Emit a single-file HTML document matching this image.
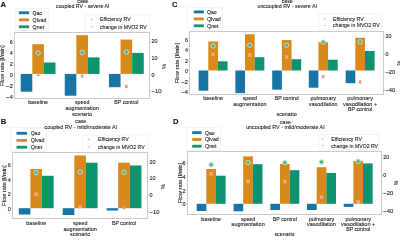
<!DOCTYPE html>
<html><head><meta charset="utf-8"><style>
html,body{margin:0;padding:0;background:#fff;overflow:hidden;}
svg{display:block;filter:blur(0.3px);}
text{font-family:"Liberation Sans", sans-serif;stroke:#222;stroke-width:0.1px;}
</style></head><body>
<svg width="400" height="236" viewBox="0 0 400 236">
<rect width="400" height="236" fill="#fff"/>
<rect x="15.50" y="8.30" width="32.80" height="22.10" fill="#fff" stroke="#ececec" stroke-width="0.6"/>
<rect x="18.90" y="11.40" width="10.20" height="2.80" fill="#1874a5"/>
<text x="32.60" y="14.70" font-size="5.8" text-anchor="start" fill="#222222" textLength="9.56" lengthAdjust="spacingAndGlyphs">Qao</text>
<rect x="18.90" y="18.40" width="10.20" height="2.80" fill="#d8891b"/>
<text x="32.60" y="21.70" font-size="5.8" text-anchor="start" fill="#222222" textLength="13.80" lengthAdjust="spacingAndGlyphs">Qlvad</text>
<rect x="18.90" y="25.40" width="10.20" height="2.80" fill="#0e9270"/>
<text x="32.60" y="28.70" font-size="5.8" text-anchor="start" fill="#222222" textLength="11.53" lengthAdjust="spacingAndGlyphs">Qnet</text>
<rect x="85.00" y="15.00" width="65.00" height="16.80" fill="#fff" stroke="#ececec" stroke-width="0.6"/>
<circle cx="91.60" cy="19.40" r="0.85" fill="#a4c8b8"/>
<circle cx="91.60" cy="26.80" r="0.85" fill="#e6bcae"/>
<text x="100.00" y="21.30" font-size="5.8" text-anchor="start" fill="#222222" textLength="30.68" lengthAdjust="spacingAndGlyphs">Efficiency RV</text>
<text x="100.00" y="28.70" font-size="5.8" text-anchor="start" fill="#222222" textLength="46.66" lengthAdjust="spacingAndGlyphs">change in MVO2 RV</text>
<rect x="20.70" y="73.90" width="11.60" height="17.80" fill="#1874a5"/>
<rect x="32.30" y="44.20" width="11.60" height="29.70" fill="#d8891b"/>
<rect x="43.90" y="62.50" width="11.60" height="11.40" fill="#0e9270"/>
<rect x="64.75" y="73.90" width="11.60" height="21.80" fill="#1874a5"/>
<rect x="76.35" y="35.20" width="11.60" height="38.70" fill="#d8891b"/>
<rect x="87.95" y="57.40" width="11.60" height="16.50" fill="#0e9270"/>
<rect x="108.95" y="73.90" width="11.60" height="13.30" fill="#1874a5"/>
<rect x="120.55" y="39.60" width="11.60" height="34.30" fill="#d8891b"/>
<rect x="132.15" y="52.90" width="11.60" height="21.00" fill="#0e9270"/>
<circle cx="38.10" cy="53.00" r="2.2" fill="#5aaea6" stroke="#bfe4b2" stroke-width="1.0"/>
<path d="M37.30 73.60L38.90 75.60M38.90 73.60L37.30 75.60" stroke="#de9a82" stroke-width="1.3" stroke-linecap="square"/>
<circle cx="82.15" cy="52.50" r="2.2" fill="#5aaea6" stroke="#bfe4b2" stroke-width="1.0"/>
<path d="M81.35 75.20L82.95 77.20M82.95 75.20L81.35 77.20" stroke="#de9a82" stroke-width="1.3" stroke-linecap="square"/>
<circle cx="126.35" cy="52.00" r="2.2" fill="#5aaea6" stroke="#bfe4b2" stroke-width="1.0"/>
<path d="M125.55 85.50L127.15 87.50M127.15 85.50L125.55 87.50" stroke="#de9a82" stroke-width="1.3" stroke-linecap="square"/>
<line x1="14.00" y1="32.50" x2="150.00" y2="32.50" stroke="#cbcbcb" stroke-width="1"/>
<line x1="14.00" y1="98.50" x2="150.00" y2="98.50" stroke="#cbcbcb" stroke-width="1"/>
<line x1="14.50" y1="32.50" x2="14.50" y2="98.50" stroke="#cbcbcb" stroke-width="1"/>
<line x1="149.50" y1="32.50" x2="149.50" y2="98.50" stroke="#cbcbcb" stroke-width="1"/>
<line x1="12.90" y1="40.78" x2="14.50" y2="40.78" stroke="#cbcbcb" stroke-width="0.8"/>
<text x="12.80" y="43.83" font-size="5.8" text-anchor="end" fill="#222222" textLength="3.02" lengthAdjust="spacingAndGlyphs">6</text>
<line x1="12.90" y1="51.82" x2="14.50" y2="51.82" stroke="#cbcbcb" stroke-width="0.8"/>
<text x="12.80" y="54.87" font-size="5.8" text-anchor="end" fill="#222222" textLength="3.02" lengthAdjust="spacingAndGlyphs">4</text>
<line x1="12.90" y1="62.86" x2="14.50" y2="62.86" stroke="#cbcbcb" stroke-width="0.8"/>
<text x="12.80" y="65.91" font-size="5.8" text-anchor="end" fill="#222222" textLength="3.02" lengthAdjust="spacingAndGlyphs">2</text>
<line x1="12.90" y1="73.90" x2="14.50" y2="73.90" stroke="#cbcbcb" stroke-width="0.8"/>
<text x="12.80" y="76.95" font-size="5.8" text-anchor="end" fill="#222222" textLength="3.02" lengthAdjust="spacingAndGlyphs">0</text>
<line x1="12.90" y1="84.94" x2="14.50" y2="84.94" stroke="#cbcbcb" stroke-width="0.8"/>
<text x="12.80" y="87.99" font-size="5.8" text-anchor="end" fill="#222222" textLength="7.00" lengthAdjust="spacingAndGlyphs">−2</text>
<line x1="12.90" y1="95.98" x2="14.50" y2="95.98" stroke="#cbcbcb" stroke-width="0.8"/>
<text x="12.80" y="99.03" font-size="5.8" text-anchor="end" fill="#222222" textLength="7.00" lengthAdjust="spacingAndGlyphs">−4</text>
<line x1="149.50" y1="41.40" x2="151.10" y2="41.40" stroke="#cbcbcb" stroke-width="0.8"/>
<text x="151.60" y="43.30" font-size="5.8" text-anchor="start" fill="#222222" textLength="6.04" lengthAdjust="spacingAndGlyphs">20</text>
<line x1="149.50" y1="58.00" x2="151.10" y2="58.00" stroke="#cbcbcb" stroke-width="0.8"/>
<text x="151.60" y="59.90" font-size="5.8" text-anchor="start" fill="#222222" textLength="6.04" lengthAdjust="spacingAndGlyphs">10</text>
<line x1="149.50" y1="74.60" x2="151.10" y2="74.60" stroke="#cbcbcb" stroke-width="0.8"/>
<text x="151.60" y="76.50" font-size="5.8" text-anchor="start" fill="#222222" textLength="3.02" lengthAdjust="spacingAndGlyphs">0</text>
<line x1="149.50" y1="91.20" x2="151.10" y2="91.20" stroke="#cbcbcb" stroke-width="0.8"/>
<text x="151.60" y="93.10" font-size="5.8" text-anchor="start" fill="#222222" textLength="10.02" lengthAdjust="spacingAndGlyphs">−10</text>
<text x="38.10" y="104.10" font-size="5.8" text-anchor="middle" fill="#222222" textLength="19.90" lengthAdjust="spacingAndGlyphs">baseline</text>
<text x="82.15" y="104.10" font-size="5.8" text-anchor="middle" fill="#222222" textLength="14.35" lengthAdjust="spacingAndGlyphs">speed</text>
<text x="82.15" y="109.80" font-size="5.8" text-anchor="middle" fill="#222222" textLength="33.37" lengthAdjust="spacingAndGlyphs">augmentation</text>
<text x="126.35" y="104.10" font-size="5.8" text-anchor="middle" fill="#222222" textLength="24.10" lengthAdjust="spacingAndGlyphs">BP control</text>
<text x="81.95" y="115.80" font-size="5.8" text-anchor="middle" fill="#222222" textLength="20.11" lengthAdjust="spacingAndGlyphs">scenario</text>
<text x="82.80" y="2.90" font-size="5.8" text-anchor="middle" fill="#222222" textLength="10.92" lengthAdjust="spacingAndGlyphs">case</text>
<text x="82.80" y="8.30" font-size="5.8" text-anchor="middle" fill="#222222" textLength="53.40" lengthAdjust="spacingAndGlyphs">coupled RV - severe AI</text>
<text x="0.60" y="7.20" font-size="7.6" text-anchor="start" fill="#111" font-weight="bold">A</text>
<text x="4.30" y="65.70" font-size="5.8" text-anchor="middle" fill="#222222" textLength="40.60" lengthAdjust="spacingAndGlyphs" transform="rotate(-90 4.30 65.70)">Flow rate [l/min]</text>
<text x="166.40" y="66.50" font-size="5.8" text-anchor="middle" fill="#222222" textLength="4.51" lengthAdjust="spacingAndGlyphs" transform="rotate(-90 166.40 66.50)">%</text>
<rect x="10.40" y="127.80" width="36.10" height="23.40" fill="#fff" stroke="#ececec" stroke-width="0.6"/>
<rect x="16.50" y="131.90" width="10.50" height="2.80" fill="#1874a5"/>
<text x="30.70" y="135.20" font-size="5.8" text-anchor="start" fill="#222222" textLength="9.56" lengthAdjust="spacingAndGlyphs">Qao</text>
<rect x="16.50" y="139.00" width="10.50" height="2.80" fill="#d8891b"/>
<text x="30.70" y="142.30" font-size="5.8" text-anchor="start" fill="#222222" textLength="13.80" lengthAdjust="spacingAndGlyphs">Qlvad</text>
<rect x="16.50" y="145.80" width="10.50" height="2.80" fill="#0e9270"/>
<text x="30.70" y="149.10" font-size="5.8" text-anchor="start" fill="#222222" textLength="11.53" lengthAdjust="spacingAndGlyphs">Qnet</text>
<rect x="82.00" y="135.00" width="66.00" height="17.80" fill="#fff" stroke="#ececec" stroke-width="0.6"/>
<circle cx="89.00" cy="139.40" r="0.85" fill="#a4c8b8"/>
<circle cx="89.00" cy="147.00" r="0.85" fill="#e6bcae"/>
<text x="98.00" y="141.30" font-size="5.8" text-anchor="start" fill="#222222" textLength="30.68" lengthAdjust="spacingAndGlyphs">Efficiency RV</text>
<text x="98.00" y="148.90" font-size="5.8" text-anchor="start" fill="#222222" textLength="46.66" lengthAdjust="spacingAndGlyphs">change in MVO2 RV</text>
<rect x="18.80" y="208.20" width="11.60" height="6.30" fill="#1874a5"/>
<rect x="30.40" y="169.00" width="11.60" height="39.20" fill="#d8891b"/>
<rect x="42.00" y="175.80" width="11.60" height="32.40" fill="#0e9270"/>
<rect x="62.75" y="208.20" width="11.60" height="6.80" fill="#1874a5"/>
<rect x="74.35" y="155.50" width="11.60" height="52.70" fill="#d8891b"/>
<rect x="85.95" y="162.70" width="11.60" height="45.50" fill="#0e9270"/>
<rect x="106.60" y="208.20" width="11.60" height="2.30" fill="#1874a5"/>
<rect x="118.20" y="162.70" width="11.60" height="45.50" fill="#d8891b"/>
<rect x="129.80" y="165.50" width="11.60" height="42.70" fill="#0e9270"/>
<circle cx="36.20" cy="172.50" r="2.2" fill="#5aaea6" stroke="#bfe4b2" stroke-width="1.0"/>
<path d="M35.05 193.05L37.35 195.35M37.35 193.05L35.05 195.35" stroke="#f0b088" stroke-width="1.45" stroke-linecap="square"/>
<circle cx="80.15" cy="171.80" r="2.2" fill="#5aaea6" stroke="#bfe4b2" stroke-width="1.0"/>
<path d="M79.00 205.55L81.30 207.85M81.30 205.55L79.00 207.85" stroke="#f0b088" stroke-width="1.45" stroke-linecap="square"/>
<circle cx="124.00" cy="172.20" r="2.2" fill="#5aaea6" stroke="#bfe4b2" stroke-width="1.0"/>
<path d="M123.20 206.50L124.80 208.50M124.80 206.50L123.20 208.50" stroke="#de9a82" stroke-width="1.3" stroke-linecap="square"/>
<line x1="12.00" y1="152.50" x2="148.00" y2="152.50" stroke="#cbcbcb" stroke-width="1"/>
<line x1="12.00" y1="218.50" x2="148.00" y2="218.50" stroke="#cbcbcb" stroke-width="1"/>
<line x1="12.50" y1="152.50" x2="12.50" y2="218.50" stroke="#cbcbcb" stroke-width="1"/>
<line x1="147.50" y1="152.50" x2="147.50" y2="218.50" stroke="#cbcbcb" stroke-width="1"/>
<line x1="10.90" y1="164.70" x2="12.50" y2="164.70" stroke="#cbcbcb" stroke-width="0.8"/>
<text x="10.70" y="167.25" font-size="5.8" text-anchor="end" fill="#222222" textLength="3.02" lengthAdjust="spacingAndGlyphs">6</text>
<line x1="10.90" y1="179.20" x2="12.50" y2="179.20" stroke="#cbcbcb" stroke-width="0.8"/>
<text x="10.70" y="181.75" font-size="5.8" text-anchor="end" fill="#222222" textLength="3.02" lengthAdjust="spacingAndGlyphs">4</text>
<line x1="10.90" y1="193.70" x2="12.50" y2="193.70" stroke="#cbcbcb" stroke-width="0.8"/>
<text x="10.70" y="196.25" font-size="5.8" text-anchor="end" fill="#222222" textLength="3.02" lengthAdjust="spacingAndGlyphs">2</text>
<line x1="10.90" y1="208.20" x2="12.50" y2="208.20" stroke="#cbcbcb" stroke-width="0.8"/>
<text x="10.70" y="210.75" font-size="5.8" text-anchor="end" fill="#222222" textLength="3.02" lengthAdjust="spacingAndGlyphs">0</text>
<line x1="147.50" y1="161.80" x2="149.10" y2="161.80" stroke="#cbcbcb" stroke-width="0.8"/>
<text x="149.60" y="163.70" font-size="5.8" text-anchor="start" fill="#222222" textLength="6.04" lengthAdjust="spacingAndGlyphs">20</text>
<line x1="147.50" y1="178.40" x2="149.10" y2="178.40" stroke="#cbcbcb" stroke-width="0.8"/>
<text x="149.60" y="180.30" font-size="5.8" text-anchor="start" fill="#222222" textLength="6.04" lengthAdjust="spacingAndGlyphs">10</text>
<line x1="147.50" y1="195.00" x2="149.10" y2="195.00" stroke="#cbcbcb" stroke-width="0.8"/>
<text x="149.60" y="196.90" font-size="5.8" text-anchor="start" fill="#222222" textLength="3.02" lengthAdjust="spacingAndGlyphs">0</text>
<line x1="147.50" y1="211.60" x2="149.10" y2="211.60" stroke="#cbcbcb" stroke-width="0.8"/>
<text x="149.60" y="213.50" font-size="5.8" text-anchor="start" fill="#222222" textLength="10.02" lengthAdjust="spacingAndGlyphs">−10</text>
<text x="36.20" y="224.90" font-size="5.8" text-anchor="middle" fill="#222222" textLength="19.90" lengthAdjust="spacingAndGlyphs">baseline</text>
<text x="80.15" y="224.90" font-size="5.8" text-anchor="middle" fill="#222222" textLength="14.35" lengthAdjust="spacingAndGlyphs">speed</text>
<text x="80.15" y="230.60" font-size="5.8" text-anchor="middle" fill="#222222" textLength="33.37" lengthAdjust="spacingAndGlyphs">augmentation</text>
<text x="124.00" y="224.90" font-size="5.8" text-anchor="middle" fill="#222222" textLength="24.10" lengthAdjust="spacingAndGlyphs">BP control</text>
<text x="80.15" y="236.30" font-size="5.8" text-anchor="middle" fill="#222222" textLength="20.11" lengthAdjust="spacingAndGlyphs">scenario</text>
<text x="80.80" y="123.00" font-size="5.8" text-anchor="middle" fill="#222222" textLength="10.92" lengthAdjust="spacingAndGlyphs">case</text>
<text x="80.80" y="129.10" font-size="5.8" text-anchor="middle" fill="#222222" textLength="72.50" lengthAdjust="spacingAndGlyphs">coupled RV - mild/moderate AI</text>
<text x="0.70" y="124.10" font-size="7.6" text-anchor="start" fill="#111" font-weight="bold">B</text>
<text x="5.60" y="185.60" font-size="5.8" text-anchor="middle" fill="#222222" textLength="40.60" lengthAdjust="spacingAndGlyphs" transform="rotate(-90 5.60 185.60)">Flow rate [l/min]</text>
<text x="165.40" y="186.80" font-size="5.8" text-anchor="middle" fill="#222222" textLength="4.51" lengthAdjust="spacingAndGlyphs" transform="rotate(-90 165.40 186.80)">%</text>
<rect x="187.70" y="7.80" width="34.80" height="22.20" fill="#fff" stroke="#ececec" stroke-width="0.6"/>
<rect x="193.80" y="10.50" width="10.00" height="2.80" fill="#1874a5"/>
<text x="207.00" y="13.80" font-size="5.8" text-anchor="start" fill="#222222" textLength="9.56" lengthAdjust="spacingAndGlyphs">Qao</text>
<rect x="193.80" y="17.50" width="10.00" height="2.80" fill="#d8891b"/>
<text x="207.00" y="20.80" font-size="5.8" text-anchor="start" fill="#222222" textLength="13.80" lengthAdjust="spacingAndGlyphs">Qlvad</text>
<rect x="193.80" y="24.40" width="10.00" height="2.80" fill="#0e9270"/>
<text x="207.00" y="27.70" font-size="5.8" text-anchor="start" fill="#222222" textLength="11.53" lengthAdjust="spacingAndGlyphs">Qnet</text>
<rect x="318.50" y="14.00" width="63.10" height="16.00" fill="#fff" stroke="#ececec" stroke-width="0.6"/>
<circle cx="324.60" cy="18.70" r="0.85" fill="#a4c8b8"/>
<circle cx="324.60" cy="25.50" r="0.85" fill="#e6bcae"/>
<text x="333.00" y="20.60" font-size="5.8" text-anchor="start" fill="#222222" textLength="30.68" lengthAdjust="spacingAndGlyphs">Efficiency RV</text>
<text x="333.00" y="27.40" font-size="5.8" text-anchor="start" fill="#222222" textLength="46.66" lengthAdjust="spacingAndGlyphs">change in MVO2 RV</text>
<rect x="198.62" y="70.50" width="9.65" height="20.20" fill="#1874a5"/>
<rect x="208.28" y="41.50" width="9.65" height="29.00" fill="#d8891b"/>
<rect x="217.92" y="61.30" width="9.65" height="9.20" fill="#0e9270"/>
<rect x="235.38" y="70.50" width="9.65" height="22.60" fill="#1874a5"/>
<rect x="245.03" y="34.30" width="9.65" height="36.20" fill="#d8891b"/>
<rect x="254.67" y="57.20" width="9.65" height="13.30" fill="#0e9270"/>
<rect x="272.22" y="70.50" width="9.65" height="19.20" fill="#1874a5"/>
<rect x="281.88" y="40.00" width="9.65" height="30.50" fill="#d8891b"/>
<rect x="291.52" y="59.20" width="9.65" height="11.30" fill="#0e9270"/>
<rect x="308.77" y="70.50" width="9.65" height="17.20" fill="#1874a5"/>
<rect x="318.43" y="42.20" width="9.65" height="28.30" fill="#d8891b"/>
<rect x="328.07" y="59.70" width="9.65" height="10.80" fill="#0e9270"/>
<rect x="345.67" y="70.50" width="9.65" height="12.70" fill="#1874a5"/>
<rect x="355.32" y="37.80" width="9.65" height="32.70" fill="#d8891b"/>
<rect x="364.97" y="51.00" width="9.65" height="19.50" fill="#0e9270"/>
<circle cx="213.10" cy="46.00" r="2.2" fill="#5aaea6" stroke="#bfe4b2" stroke-width="1.0"/>
<path d="M211.95 53.25L214.25 55.55M214.25 53.25L211.95 55.55" stroke="#f0b088" stroke-width="1.45" stroke-linecap="square"/>
<circle cx="249.85" cy="45.20" r="2.2" fill="#5aaea6" stroke="#bfe4b2" stroke-width="1.0"/>
<path d="M248.70 53.85L251.00 56.15M251.00 53.85L248.70 56.15" stroke="#f0b088" stroke-width="1.45" stroke-linecap="square"/>
<circle cx="286.70" cy="45.20" r="2.2" fill="#5aaea6" stroke="#bfe4b2" stroke-width="1.0"/>
<path d="M285.55 55.85L287.85 58.15M287.85 55.85L285.55 58.15" stroke="#f0b088" stroke-width="1.45" stroke-linecap="square"/>
<circle cx="323.25" cy="42.10" r="2.2" fill="#5aaea6" stroke="#bfe4b2" stroke-width="1.0"/>
<path d="M322.45 75.70L324.05 77.70M324.05 75.70L322.45 77.70" stroke="#de9a82" stroke-width="1.3" stroke-linecap="square"/>
<circle cx="360.15" cy="41.80" r="2.2" fill="#5aaea6" stroke="#bfe4b2" stroke-width="1.0"/>
<path d="M359.35 81.00L360.95 83.00M360.95 81.00L359.35 83.00" stroke="#de9a82" stroke-width="1.3" stroke-linecap="square"/>
<line x1="189.00" y1="31.50" x2="384.00" y2="31.50" stroke="#cbcbcb" stroke-width="1"/>
<line x1="189.00" y1="94.50" x2="384.00" y2="94.50" stroke="#cbcbcb" stroke-width="1"/>
<line x1="189.50" y1="31.50" x2="189.50" y2="94.50" stroke="#cbcbcb" stroke-width="1"/>
<line x1="383.50" y1="31.50" x2="383.50" y2="94.50" stroke="#cbcbcb" stroke-width="1"/>
<line x1="187.90" y1="39.00" x2="189.50" y2="39.00" stroke="#cbcbcb" stroke-width="0.8"/>
<text x="188.00" y="41.55" font-size="5.8" text-anchor="end" fill="#222222" textLength="3.02" lengthAdjust="spacingAndGlyphs">6</text>
<line x1="187.90" y1="49.50" x2="189.50" y2="49.50" stroke="#cbcbcb" stroke-width="0.8"/>
<text x="188.00" y="52.05" font-size="5.8" text-anchor="end" fill="#222222" textLength="3.02" lengthAdjust="spacingAndGlyphs">4</text>
<line x1="187.90" y1="60.00" x2="189.50" y2="60.00" stroke="#cbcbcb" stroke-width="0.8"/>
<text x="188.00" y="62.55" font-size="5.8" text-anchor="end" fill="#222222" textLength="3.02" lengthAdjust="spacingAndGlyphs">2</text>
<line x1="187.90" y1="70.50" x2="189.50" y2="70.50" stroke="#cbcbcb" stroke-width="0.8"/>
<text x="188.00" y="73.05" font-size="5.8" text-anchor="end" fill="#222222" textLength="3.02" lengthAdjust="spacingAndGlyphs">0</text>
<line x1="187.90" y1="81.00" x2="189.50" y2="81.00" stroke="#cbcbcb" stroke-width="0.8"/>
<text x="188.00" y="83.55" font-size="5.8" text-anchor="end" fill="#222222" textLength="7.00" lengthAdjust="spacingAndGlyphs">−2</text>
<line x1="187.90" y1="91.50" x2="189.50" y2="91.50" stroke="#cbcbcb" stroke-width="0.8"/>
<text x="188.00" y="94.05" font-size="5.8" text-anchor="end" fill="#222222" textLength="7.00" lengthAdjust="spacingAndGlyphs">−4</text>
<line x1="383.50" y1="36.15" x2="385.10" y2="36.15" stroke="#cbcbcb" stroke-width="0.8"/>
<text x="385.40" y="38.05" font-size="5.8" text-anchor="start" fill="#222222" textLength="6.04" lengthAdjust="spacingAndGlyphs">20</text>
<line x1="383.50" y1="54.10" x2="385.10" y2="54.10" stroke="#cbcbcb" stroke-width="0.8"/>
<text x="385.40" y="56.00" font-size="5.8" text-anchor="start" fill="#222222" textLength="3.02" lengthAdjust="spacingAndGlyphs">0</text>
<line x1="383.50" y1="72.05" x2="385.10" y2="72.05" stroke="#cbcbcb" stroke-width="0.8"/>
<text x="385.40" y="73.95" font-size="5.8" text-anchor="start" fill="#222222" textLength="10.02" lengthAdjust="spacingAndGlyphs">−20</text>
<line x1="383.50" y1="90.00" x2="385.10" y2="90.00" stroke="#cbcbcb" stroke-width="0.8"/>
<text x="385.40" y="91.90" font-size="5.8" text-anchor="start" fill="#222222" textLength="10.02" lengthAdjust="spacingAndGlyphs">−40</text>
<text x="213.10" y="100.30" font-size="5.8" text-anchor="middle" fill="#222222" textLength="19.90" lengthAdjust="spacingAndGlyphs">baseline</text>
<text x="249.85" y="100.30" font-size="5.8" text-anchor="middle" fill="#222222" textLength="14.35" lengthAdjust="spacingAndGlyphs">speed</text>
<text x="249.85" y="105.70" font-size="5.8" text-anchor="middle" fill="#222222" textLength="33.37" lengthAdjust="spacingAndGlyphs">augmentation</text>
<text x="286.70" y="100.30" font-size="5.8" text-anchor="middle" fill="#222222" textLength="24.10" lengthAdjust="spacingAndGlyphs">BP control</text>
<text x="323.25" y="100.30" font-size="5.8" text-anchor="middle" fill="#222222" textLength="25.56" lengthAdjust="spacingAndGlyphs">pulmonary</text>
<text x="323.25" y="105.70" font-size="5.8" text-anchor="middle" fill="#222222" textLength="28.77" lengthAdjust="spacingAndGlyphs">vasodilation</text>
<text x="360.15" y="100.30" font-size="5.8" text-anchor="middle" fill="#222222" textLength="25.56" lengthAdjust="spacingAndGlyphs">pulmonary</text>
<text x="360.15" y="105.70" font-size="5.8" text-anchor="middle" fill="#222222" textLength="34.26" lengthAdjust="spacingAndGlyphs">vasodilation +</text>
<text x="360.15" y="111.10" font-size="5.8" text-anchor="middle" fill="#222222" textLength="24.10" lengthAdjust="spacingAndGlyphs">BP control</text>
<text x="286.65" y="116.10" font-size="5.8" text-anchor="middle" fill="#222222" textLength="20.11" lengthAdjust="spacingAndGlyphs">scenario</text>
<text x="287.20" y="3.20" font-size="5.8" text-anchor="middle" fill="#222222" textLength="10.92" lengthAdjust="spacingAndGlyphs">case</text>
<text x="287.20" y="8.30" font-size="5.8" text-anchor="middle" fill="#222222" textLength="59.42" lengthAdjust="spacingAndGlyphs">uncoupled RV - severe AI</text>
<text x="172.10" y="7.20" font-size="7.6" text-anchor="start" fill="#111" font-weight="bold">C</text>
<text x="179.40" y="62.90" font-size="5.8" text-anchor="middle" fill="#222222" textLength="40.60" lengthAdjust="spacingAndGlyphs" transform="rotate(-90 179.40 62.90)">Flow rate [l/min]</text>
<text x="401.10" y="63.30" font-size="5.8" text-anchor="middle" fill="#222222" textLength="4.51" lengthAdjust="spacingAndGlyphs" transform="rotate(-90 401.10 63.30)">%</text>
<rect x="186.50" y="127.80" width="34.00" height="22.40" fill="#fff" stroke="#ececec" stroke-width="0.6"/>
<rect x="192.20" y="131.20" width="9.30" height="2.80" fill="#1874a5"/>
<text x="205.00" y="134.50" font-size="5.8" text-anchor="start" fill="#222222" textLength="9.56" lengthAdjust="spacingAndGlyphs">Qao</text>
<rect x="192.20" y="138.10" width="9.30" height="2.80" fill="#d8891b"/>
<text x="205.00" y="141.40" font-size="5.8" text-anchor="start" fill="#222222" textLength="13.80" lengthAdjust="spacingAndGlyphs">Qlvad</text>
<rect x="192.20" y="144.80" width="9.30" height="2.80" fill="#0e9270"/>
<text x="205.00" y="148.10" font-size="5.8" text-anchor="start" fill="#222222" textLength="11.53" lengthAdjust="spacingAndGlyphs">Qnet</text>
<rect x="318.75" y="134.50" width="60.00" height="15.50" fill="#fff" stroke="#ececec" stroke-width="0.6"/>
<circle cx="322.50" cy="139.00" r="0.85" fill="#a4c8b8"/>
<circle cx="322.50" cy="145.70" r="0.85" fill="#e6bcae"/>
<text x="331.30" y="140.90" font-size="5.8" text-anchor="start" fill="#222222" textLength="30.68" lengthAdjust="spacingAndGlyphs">Efficiency RV</text>
<text x="331.30" y="147.60" font-size="5.8" text-anchor="start" fill="#222222" textLength="46.66" lengthAdjust="spacingAndGlyphs">change in MVO2 RV</text>
<rect x="196.68" y="203.80" width="9.65" height="7.20" fill="#1874a5"/>
<rect x="206.33" y="169.00" width="9.65" height="34.80" fill="#d8891b"/>
<rect x="215.97" y="175.70" width="9.65" height="28.10" fill="#0e9270"/>
<rect x="233.58" y="203.80" width="9.65" height="7.50" fill="#1874a5"/>
<rect x="243.23" y="156.40" width="9.65" height="47.40" fill="#d8891b"/>
<rect x="252.88" y="164.20" width="9.65" height="39.60" fill="#0e9270"/>
<rect x="270.38" y="203.80" width="9.65" height="6.20" fill="#1874a5"/>
<rect x="280.03" y="164.00" width="9.65" height="39.80" fill="#d8891b"/>
<rect x="289.68" y="170.20" width="9.65" height="33.60" fill="#0e9270"/>
<rect x="307.02" y="203.80" width="9.65" height="6.20" fill="#1874a5"/>
<rect x="316.68" y="167.20" width="9.65" height="36.60" fill="#d8891b"/>
<rect x="326.32" y="173.00" width="9.65" height="30.80" fill="#0e9270"/>
<rect x="343.72" y="203.80" width="9.65" height="3.10" fill="#1874a5"/>
<rect x="353.38" y="160.90" width="9.65" height="42.90" fill="#d8891b"/>
<rect x="363.02" y="163.40" width="9.65" height="40.40" fill="#0e9270"/>
<circle cx="211.15" cy="164.80" r="2.2" fill="#5aaea6" stroke="#bfe4b2" stroke-width="1.0"/>
<path d="M210.00 172.65L212.30 174.95M212.30 172.65L210.00 174.95" stroke="#f0b088" stroke-width="1.45" stroke-linecap="square"/>
<circle cx="248.05" cy="162.70" r="2.2" fill="#5aaea6" stroke="#bfe4b2" stroke-width="1.0"/>
<path d="M246.90 180.35L249.20 182.65M249.20 180.35L246.90 182.65" stroke="#f0b088" stroke-width="1.45" stroke-linecap="square"/>
<circle cx="284.85" cy="162.70" r="2.2" fill="#5aaea6" stroke="#bfe4b2" stroke-width="1.0"/>
<path d="M283.70 180.45L286.00 182.75M286.00 180.45L283.70 182.75" stroke="#f0b088" stroke-width="1.45" stroke-linecap="square"/>
<circle cx="321.50" cy="162.00" r="2.2" fill="#5aaea6" stroke="#bfe4b2" stroke-width="1.0"/>
<path d="M320.35 196.05L322.65 198.35M322.65 196.05L320.35 198.35" stroke="#f0b088" stroke-width="1.45" stroke-linecap="square"/>
<circle cx="358.20" cy="161.30" r="2.2" fill="#5aaea6" stroke="#bfe4b2" stroke-width="1.0"/>
<path d="M357.05 200.85L359.35 203.15M359.35 200.85L357.05 203.15" stroke="#f0b088" stroke-width="1.45" stroke-linecap="square"/>
<line x1="187.00" y1="151.50" x2="382.00" y2="151.50" stroke="#cbcbcb" stroke-width="1"/>
<line x1="187.00" y1="214.50" x2="382.00" y2="214.50" stroke="#cbcbcb" stroke-width="1"/>
<line x1="187.50" y1="151.50" x2="187.50" y2="214.50" stroke="#cbcbcb" stroke-width="1"/>
<line x1="381.50" y1="151.50" x2="381.50" y2="214.50" stroke="#cbcbcb" stroke-width="1"/>
<line x1="185.90" y1="162.40" x2="187.50" y2="162.40" stroke="#cbcbcb" stroke-width="0.8"/>
<text x="185.50" y="164.95" font-size="5.8" text-anchor="end" fill="#222222" textLength="3.02" lengthAdjust="spacingAndGlyphs">6</text>
<line x1="185.90" y1="176.20" x2="187.50" y2="176.20" stroke="#cbcbcb" stroke-width="0.8"/>
<text x="185.50" y="178.75" font-size="5.8" text-anchor="end" fill="#222222" textLength="3.02" lengthAdjust="spacingAndGlyphs">4</text>
<line x1="185.90" y1="190.00" x2="187.50" y2="190.00" stroke="#cbcbcb" stroke-width="0.8"/>
<text x="185.50" y="192.55" font-size="5.8" text-anchor="end" fill="#222222" textLength="3.02" lengthAdjust="spacingAndGlyphs">2</text>
<line x1="185.90" y1="203.80" x2="187.50" y2="203.80" stroke="#cbcbcb" stroke-width="0.8"/>
<text x="185.50" y="206.35" font-size="5.8" text-anchor="end" fill="#222222" textLength="3.02" lengthAdjust="spacingAndGlyphs">0</text>
<line x1="381.50" y1="156.80" x2="383.10" y2="156.80" stroke="#cbcbcb" stroke-width="0.8"/>
<text x="383.30" y="158.70" font-size="5.8" text-anchor="start" fill="#222222" textLength="6.04" lengthAdjust="spacingAndGlyphs">20</text>
<line x1="381.50" y1="174.90" x2="383.10" y2="174.90" stroke="#cbcbcb" stroke-width="0.8"/>
<text x="383.30" y="176.80" font-size="5.8" text-anchor="start" fill="#222222" textLength="3.02" lengthAdjust="spacingAndGlyphs">0</text>
<line x1="381.50" y1="193.00" x2="383.10" y2="193.00" stroke="#cbcbcb" stroke-width="0.8"/>
<text x="383.30" y="194.90" font-size="5.8" text-anchor="start" fill="#222222" textLength="10.02" lengthAdjust="spacingAndGlyphs">−20</text>
<line x1="381.50" y1="211.10" x2="383.10" y2="211.10" stroke="#cbcbcb" stroke-width="0.8"/>
<text x="383.30" y="213.00" font-size="5.8" text-anchor="start" fill="#222222" textLength="10.02" lengthAdjust="spacingAndGlyphs">−40</text>
<text x="211.15" y="220.90" font-size="5.8" text-anchor="middle" fill="#222222" textLength="19.90" lengthAdjust="spacingAndGlyphs">baseline</text>
<text x="248.05" y="220.90" font-size="5.8" text-anchor="middle" fill="#222222" textLength="14.35" lengthAdjust="spacingAndGlyphs">speed</text>
<text x="248.05" y="226.00" font-size="5.8" text-anchor="middle" fill="#222222" textLength="33.37" lengthAdjust="spacingAndGlyphs">augmentation</text>
<text x="284.85" y="220.90" font-size="5.8" text-anchor="middle" fill="#222222" textLength="24.10" lengthAdjust="spacingAndGlyphs">BP control</text>
<text x="321.50" y="220.90" font-size="5.8" text-anchor="middle" fill="#222222" textLength="25.56" lengthAdjust="spacingAndGlyphs">pulmonary</text>
<text x="321.50" y="226.00" font-size="5.8" text-anchor="middle" fill="#222222" textLength="28.77" lengthAdjust="spacingAndGlyphs">vasodilation</text>
<text x="358.20" y="220.90" font-size="5.8" text-anchor="middle" fill="#222222" textLength="25.56" lengthAdjust="spacingAndGlyphs">pulmonary</text>
<text x="358.20" y="226.00" font-size="5.8" text-anchor="middle" fill="#222222" textLength="34.26" lengthAdjust="spacingAndGlyphs">vasodilation +</text>
<text x="358.20" y="231.10" font-size="5.8" text-anchor="middle" fill="#222222" textLength="24.10" lengthAdjust="spacingAndGlyphs">BP control</text>
<text x="284.50" y="235.70" font-size="5.8" text-anchor="middle" fill="#222222" textLength="20.11" lengthAdjust="spacingAndGlyphs">scenario</text>
<text x="285.40" y="123.50" font-size="5.8" text-anchor="middle" fill="#222222" textLength="10.92" lengthAdjust="spacingAndGlyphs">case</text>
<text x="285.40" y="129.40" font-size="5.8" text-anchor="middle" fill="#222222" textLength="78.52" lengthAdjust="spacingAndGlyphs">uncoupled RV - mild/moderate AI</text>
<text x="173.00" y="124.10" font-size="7.6" text-anchor="start" fill="#111" font-weight="bold">D</text>
<text x="182.10" y="182.90" font-size="5.8" text-anchor="middle" fill="#222222" textLength="40.60" lengthAdjust="spacingAndGlyphs" transform="rotate(-90 182.10 182.90)">Flow rate [l/min]</text>
<text x="397.50" y="183.00" font-size="5.8" text-anchor="middle" fill="#222222" textLength="4.51" lengthAdjust="spacingAndGlyphs" transform="rotate(-90 397.50 183.00)">%</text>
</svg></body></html>
